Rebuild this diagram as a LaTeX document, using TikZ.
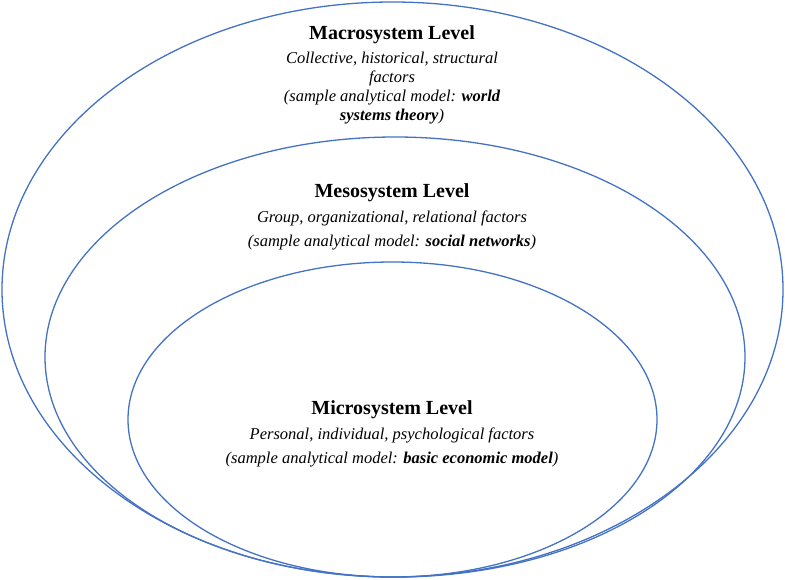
\documentclass[tikz,border=0pt]{standalone}
\usepackage{fontspec}
\setmainfont{Liberation Serif}
\definecolor{ringblue}{RGB}{68,114,196}
\begin{document}
\begin{tikzpicture}[x=1pt,y=-1pt,
  ring/.style={draw=ringblue,line width=1.3pt},
  ttl/.style={font=\bfseries\fontsize{20}{24}\selectfont,anchor=center},
  txt/.style={font=\itshape\fontsize{16.5}{19}\selectfont,anchor=center,align=center}]
\useasboundingbox (0,0) rectangle (785,579);
\draw[ring] (392.5,289.5) ellipse [x radius=390.5,y radius=287.5];
\draw[ring] (395,357) ellipse [x radius=350,y radius=220];
\draw[ring] (392.5,419.5) ellipse [x radius=264.5,y radius=157.5];
\node[ttl] (mat) at (392,35) {Macrosystem Level};
\node[txt] (ma1) at (392,69) {Collective, historical, structural\\factors};
\node[txt] (ma2) at (392,107) {(sample analytical model: \textbf{world}\\\textbf{systems theory})};
\node[ttl] (met) at (392,193) {Mesosystem Level};
\node[txt] (me1) at (392,218) {Group, organizational, relational factors};
\node[txt] (me2) at (392,243) {(sample analytical model: \textbf{social networks})};
\node[ttl] (mit) at (392,410) {Microsystem Level};
\node[txt] (mi1) at (392,435) {Personal, individual, psychological factors};
\node[txt] (mi2) at (392,460) {(sample analytical model: \textbf{basic economic model})};
\end{tikzpicture}
\end{document}
